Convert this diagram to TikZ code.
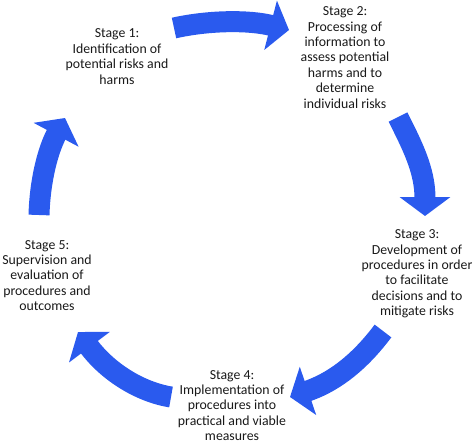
\documentclass[tikz,border=0pt]{standalone}
\usepackage{fontspec}
\setmainfont{Carlito}
\usetikzlibrary{arrows.meta}
\definecolor{arrowblue}{RGB}{42,90,238}
\definecolor{txt}{RGB}{25,25,25}
\tikzset{
  stage/.style={align=center, inner sep=0pt, text=txt, font=\fontsize{13.8}{15.4}\selectfont},
  blockarrow/.style={draw=arrowblue, line width=21pt, line cap=butt,
    -{Triangle[length=19pt, width=50pt]}}
}
\begin{document}
\begin{tikzpicture}[x=1pt,y=-1pt]
\useasboundingbox (0,0) rectangle (474,445);
% stage texts
\node[stage] (s1) at (117,56.5) {Stage 1:\\Identification of\\potential risks and\\harms};
\node[stage] (s2) at (345,57.5) {Stage 2:\\Processing of\\information to\\assess potential\\harms and to\\determine\\individual risks};
\node[stage] (s3) at (417,274) {Stage 3:\\Development of\\procedures in order\\to facilitate\\decisions and to\\mitigate risks};
\node[stage] (s4) at (232,405.5) {Stage 4:\\Implementation of\\procedures into\\practical and viable\\measures};
\node[stage] (s5) at (47,275.5) {Stage 5:\\Supervision and\\evaluation of\\procedures and\\outcomes};
% arrow end points
\coordinate (a1s) at (174,28);  \coordinate (a1e) at (289,30);
\coordinate (a2s) at (398,117); \coordinate (a2e) at (425,216);
\coordinate (a3s) at (383,331); \coordinate (a3e) at (290,397);
\coordinate (a4s) at (171,397); \coordinate (a4e) at (78,332);
\coordinate (a5s) at (39,215);  \coordinate (a5e) at (65,118);
% arrows
\draw[blockarrow] (a1s) .. controls (210,20) and (250,20) .. (a1e);
\draw[blockarrow] (a2s) .. controls (412,145) and (425,170) .. (a2e);
\draw[blockarrow] (a3s) .. controls (365,355) and (340,380) .. (a3e);
\draw[blockarrow] (a4s) .. controls (140,392) and (108,372) .. (a4e);
\draw[blockarrow] (a5s) .. controls (40,180) and (48,150) .. (a5e);
\end{tikzpicture}
\end{document}
